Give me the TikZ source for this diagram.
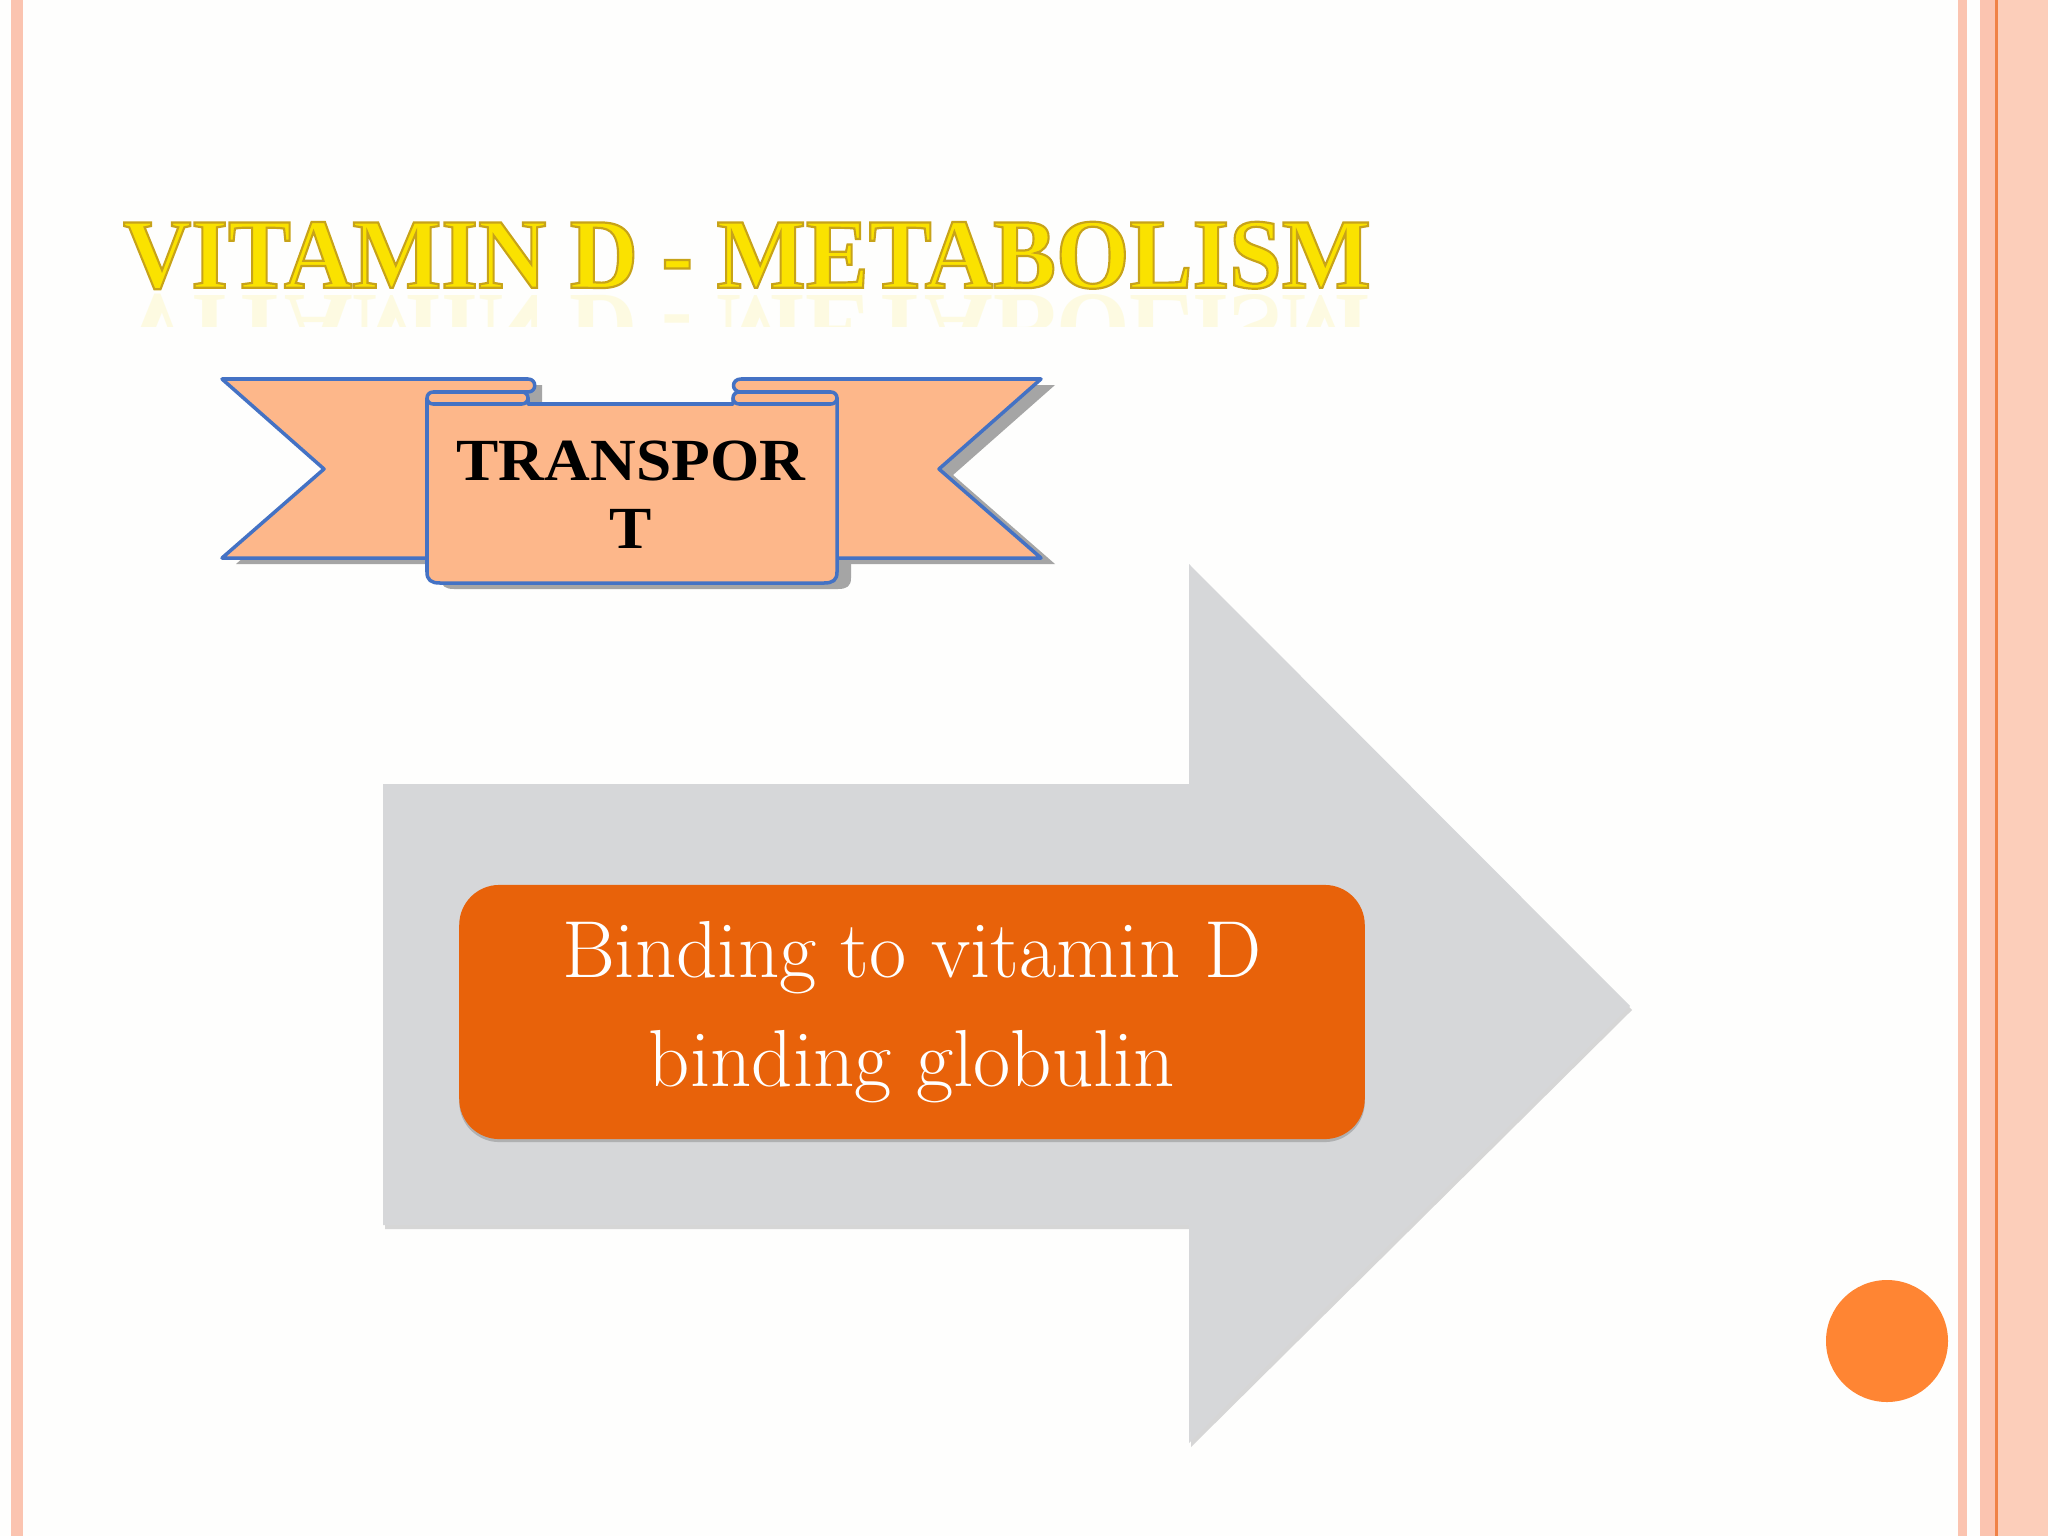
\documentclass[tikz,border=0pt]{standalone}
\usepackage{graphicx}
\usepackage{fontspec}
\newfontfamily\headfont{Liberation Serif}
\definecolor{pagebg}{RGB}{254,254,253}
\definecolor{stripepink}{RGB}{251,196,176}
\definecolor{stripelight}{RGB}{252,206,186}
\definecolor{stripeline}{RGB}{240,130,70}
\definecolor{titleyellow}{RGB}{250,226,0}
\definecolor{bannerfill}{RGB}{253,183,138}
\definecolor{bannerline}{RGB}{68,114,196}
\definecolor{shadowgray}{RGB}{165,165,165}
\definecolor{arrowgray}{RGB}{214,215,217}
\definecolor{boxorange}{RGB}{232,98,10}
\definecolor{dotorange}{RGB}{255,133,51}
% yellow letters with a thin golden outline
\newcommand{\goldtext}[1]{\special{pdf:literal 2 Tr 0.22 w 0.78 0.64 0.10 RG}#1\special{pdf:literal 0 Tr}}
\begin{document}
\begin{tikzpicture}[x=0.01cm, y=-0.01cm,
  stripe/.style={fill=stripepink},
  heading/.style={inner sep=0pt, text=titleyellow, anchor=south},
  ribbon/.style={fill=bannerfill, draw=bannerline, line width=1pt, line join=round},
  ribshadow/.style={fill=shadowgray},
  bantext/.style={inner sep=0pt, align=center, xscale=1.06,
    font=\headfont\fontsize{17}{19.4}\selectfont\bfseries},
  bigarrow/.style={fill=arrowgray},
  step box/.style={fill=boxorange, rounded corners=0.4cm, minimum width=9.05cm,
    minimum height=2.54cm, inner sep=0pt, text=white, align=center,
    font=\fontsize{23}{31}\selectfont}]
  % page, side stripes (pixel coordinates, y down)
  \fill[pagebg] (0,0) rectangle (2048,1536);
  \useasboundingbox (0,0) rectangle (2048,1536);
  \fill[stripe] (11,0) rectangle (23,1536);
  \fill[stripe] (1958,0) rectangle (1967,1536);
  \fill[stripe] (1980,0) rectangle (2048,1536);
  \fill[stripelight] (1998,0) rectangle (2048,1536);
  \fill[stripeline] (1995,0) rectangle (1998,1536);
  % title and its faint reflection
  \node[heading] (ttl) at (747,290) {\resizebox{12.47cm}{0.66cm}{\headfont\bfseries\goldtext{VITAMIN D - METABOLISM}}};
  \begin{scope}
    \clip (0,292) rectangle (2048,326);
    \node[heading, yscale=-1, opacity=0.11] (ttlr) at (747,293) {\resizebox{12.47cm}{0.66cm}{\headfont\bfseries VITAMIN D - METABOLISM}};
  \end{scope}
  % banner: shadow first, then tails, panel and rolls
  \begin{scope}[shift={(14,6)}]
    \fill[ribshadow] (222,379) -- (528,379) -- (528,558) -- (222,558) -- (324,469) -- cycle;
    \fill[ribshadow] (1041,379) -- (741,379) -- (741,558) -- (1041,558) -- (939,469) -- cycle;
    \fill[ribshadow] (427,398) -- (427,572) .. controls (427,580) and (431,583) .. (440,583)
      -- (824,583) .. controls (833,583) and (837,580) .. (837,572) -- (837,398) -- cycle;
  \end{scope}
  \path[ribbon] (222,379) -- (528,379) .. controls (537,379) and (537,392) .. (528,392)
    -- (440,392) -- (440,558) -- (222,558) -- (324,469) -- cycle;
  \path[ribbon] (1041,379) -- (741,379) .. controls (731,379) and (731,392) .. (741,392)
    -- (820,392) -- (820,558) -- (1041,558) -- (939,469) -- cycle;
  \path[ribbon] (427,398) -- (427,572) .. controls (427,580) and (431,583) .. (440,583)
    -- (824,583) .. controls (833,583) and (837,580) .. (837,572) -- (837,398)
    -- (733,398) -- (733,404) -- (528,404) -- (528,398) -- cycle;
  \path[ribbon, rounded corners=0.06cm] (427,392) rectangle (528,404);
  \path[ribbon, rounded corners=0.06cm] (733,392) rectangle (837,404);
  \node[bantext] (trans) at (631,495) {TRANSPOR\\T};
  % grey block arrow
  \fill[shadowgray!45] (385,788) -- (1191,788) -- (1191,568) -- (1632,1010) -- (1191,1447)
    -- (1191,1229) -- (385,1229) -- cycle;
  \fill[bigarrow] (383,784) -- (1189,784) -- (1189,564) -- (1630,1006) -- (1189,1443)
    -- (1189,1225) -- (383,1225) -- cycle;
  % orange step box
  \node[step box, fill=black, opacity=0.18] (stepshd) at (912,1015) {};
  \node[step box] (step) at (912,1012) {Binding to vitamin D\\binding globulin};
  % corner dot
  \fill[dotorange] (1887,1341) circle (61);
\end{tikzpicture}
\end{document}
